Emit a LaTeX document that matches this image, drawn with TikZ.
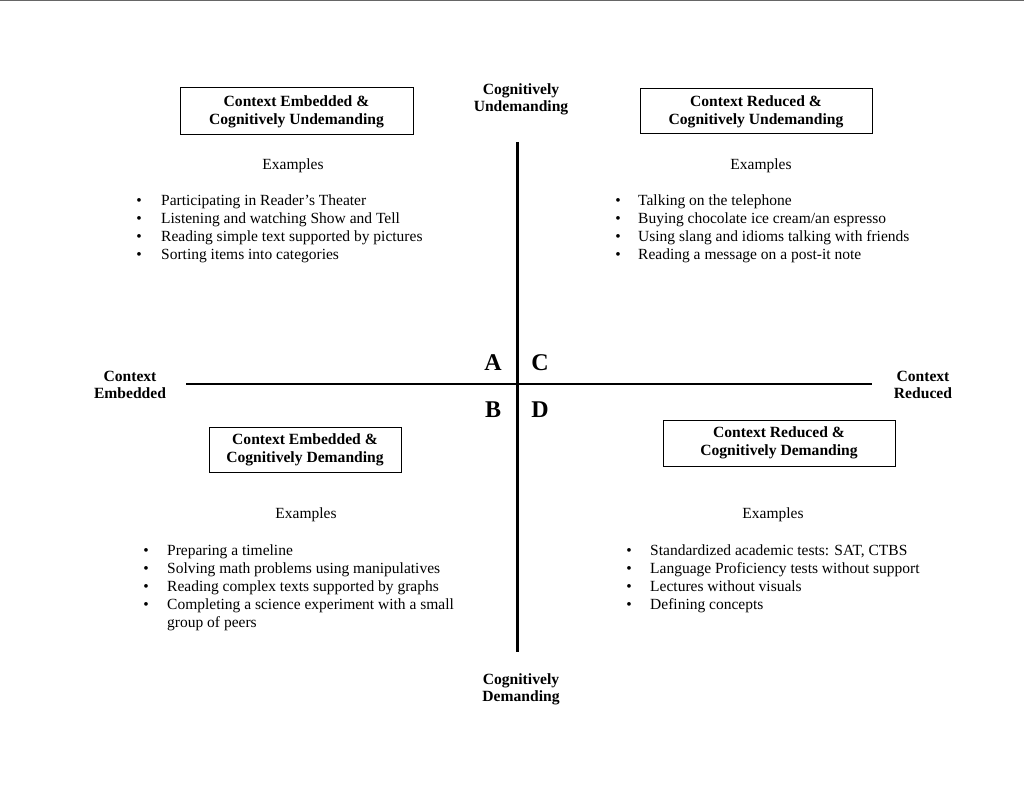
\documentclass[tikz,border=0pt]{standalone}
\usepackage{fontspec}
\setmainfont{Liberation Serif}
\tikzset{
  qbox/.style={draw, line width=1pt, font=\bfseries\fontsize{15.6}{18}\selectfont, align=center, inner sep=0pt},
  axlab/.style={font=\bfseries\fontsize{15.6}{17}\selectfont, align=center, inner sep=0pt},
  quad/.style={font=\bfseries\fontsize{24}{24}\selectfont, inner sep=0pt},
  exhead/.style={font=\fontsize{15.5}{18}\selectfont, inner sep=0pt},
  item/.style={font=\fontsize{15.5}{18}\selectfont, anchor=base west, inner sep=0pt, align=left},
  bul/.style={font=\fontsize{15.5}{18}\selectfont, anchor=base, inner sep=0pt},
  axis/.style={line width=2.8pt}
}
\begin{document}
\begin{tikzpicture}[x=1pt,y=-1pt]
\useasboundingbox (0,0) rectangle (1024,791);
\fill[white] (0,0) rectangle (1024,791);
\draw[gray!80!black, line width=1.5pt] (0,0.75) -- (1024,0.75);

% axes
\coordinate (vt) at (517.5,142);
\coordinate (vb) at (517.5,652);
\coordinate (hl) at (186,384);
\coordinate (hr) at (872,384);
\draw[axis] (vt) -- (vb);
\draw[axis] (hl) -- (hr);

% axis labels
\node[axlab] (cu) at (521,99) {Cognitively\\Undemanding};
\node[axlab] (cd) at (521,689) {Cognitively\\Demanding};
\node[axlab] (ce) at (130,385) {Context\\Embedded};
\node[axlab] (cr) at (923,385) {Context\\Reduced};

% quadrant letters
\node[quad] (qa) at (493,363) {A};
\node[quad] (qc) at (540,363) {C};
\node[quad] (qb) at (493,410) {B};
\node[quad] (qd) at (540,410) {D};

% boxes
\node[qbox, minimum width=233pt, minimum height=47pt] (ba) at (296.5,111.5) {Context Embedded \&\\Cognitively Undemanding};
\node[qbox, minimum width=232pt, minimum height=45pt] (bc) at (756,111.5) {Context Reduced \&\\Cognitively Undemanding};
\node[qbox, minimum width=192pt, minimum height=45pt] (bb) at (305,449.5) {Context Embedded \&\\Cognitively Demanding};
\node[qbox, minimum width=232pt, minimum height=46pt] (bd) at (779,443) {Context Reduced \&\\Cognitively Demanding};

% examples headings
\node[exhead] (ea) at (293,166) {Examples};
\node[exhead] (ec) at (761,166) {Examples};
\node[exhead] (eb) at (306,515) {Examples};
\node[exhead] (ed) at (773,515) {Examples};

% top-left items
\foreach \y/\t [count=\i] in {206/{Participating in Reader’s Theater},224/{Listening and watching Show and Tell},242/{Reading simple text supported by pictures},260/{Sorting items into categories}}{
  \node[bul] (ab\i) at (139,\y) {•};
  \node[item] (ai\i) at (161,\y) {\t};
}
% top-right items
\foreach \y/\t [count=\i] in {206/{Talking on the telephone},224/{Buying chocolate ice cream/an espresso},242/{Using slang and idioms talking with friends},260/{Reading a message on a post-it note}}{
  \node[bul] (cb\i) at (618,\y) {•};
  \node[item] (ci\i) at (638,\y) {\t};
}
% bottom-left items
\foreach \y/\t [count=\i] in {555/{Preparing a timeline},573/{Solving math problems using manipulatives},591/{Reading complex texts supported by graphs}}{
  \node[bul] (bb\i) at (146,\y) {•};
  \node[item] (bi\i) at (167,\y) {\t};
}
\node[bul] (bb4) at (146,609) {•};
\node[item] (bi4) at (167,627) {Completing a science experiment with a small\\group of peers};
% bottom-right items
\foreach \y/\t [count=\i] in {555/{Standardized academic tests: SAT, CTBS},573/{Language Proficiency tests without support},591/{Lectures without visuals},609/{Defining concepts}}{
  \node[bul] (db\i) at (629,\y) {•};
  \node[item] (di\i) at (650,\y) {\t};
}
\end{tikzpicture}
\end{document}
